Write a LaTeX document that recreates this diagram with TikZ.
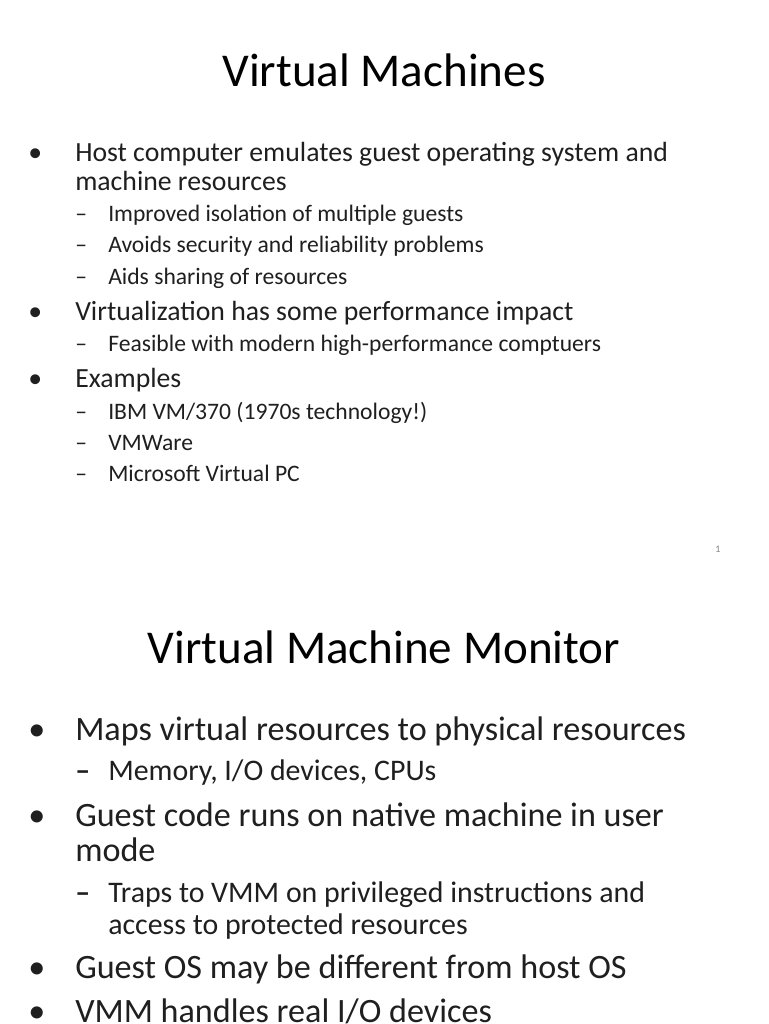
\documentclass[tikz,border=0pt]{standalone}
\usepackage{fontspec}
\setmainfont{Carlito}
\begin{document}
\begin{tikzpicture}[x=0.75pt,y=-0.75pt,
 t/.style={anchor=base west,inner sep=0pt,text=black!88},
 ttl/.style={anchor=base,inner sep=0pt,font=\fontsize{35.3}{40}\selectfont},
 la/.style={t,font=\fontsize{20.8}{24}\selectfont},
 lb/.style={t,font=\fontsize{17.7}{21}\selectfont},
 lc/.style={t,font=\fontsize{25.6}{30}\selectfont},
 ld/.style={t,font=\fontsize{22.4}{26}\selectfont}]
\useasboundingbox[fill=white] (0,0) rectangle (768,1024);
\node[ttl] (t1) at (384,87) {Virtual Machines};
\node[la] (b1) at (28,161) {•};
\node[la] (a1) at (75,161) {Host computer emulates guest operating system and};
\node[la] (a1b) at (75,190) {machine resources};
\node[lb] (d1) at (75,221) {–};\node[lb] (s1) at (108,221) {Improved isolation of multiple guests};
\node[lb] (d2) at (75,252) {–};\node[lb] (s2) at (108,252) {Avoids security and reliability problems};
\node[lb] (d3) at (75,284) {–};\node[lb] (s3) at (108,284) {Aids sharing of resources};
\node[la] (b2) at (28,320) {•};
\node[la] (a2) at (75,320) {Virtualization has some performance impact};
\node[lb] (d4) at (75,351) {–};\node[lb] (s4) at (108,351) {Feasible with modern high-performance comptuers};
\node[la] (b3) at (28,387) {•};
\node[la] (a3) at (75,387) {Examples};
\node[lb] (d5) at (75,419) {–};\node[lb] (s5) at (108,419) {IBM VM/370 (1970s technology!)};
\node[lb] (d6) at (75,450) {–};\node[lb] (s6) at (108,450) {VMWare};
\node[lb] (d7) at (75,481) {–};\node[lb] (s7) at (108,481) {Microsoft Virtual PC};
\node[t,font=\fontsize{7.5}{9}\selectfont,text=black!50] (pg) at (715,552) {1};
\node[ttl] (t2) at (384,663) {Virtual Machine Monitor};
\node[lc] (c1) at (28,740) {•};
\node[lc] (m1) at (75,740) {Maps virtual resources to physical resources};
\node[ld] (e1) at (75,780) {\textbf{–}};\node[ld] (n1) at (108,780) {Memory, I/O devices, CPUs};
\node[lc] (c2) at (28,826) {•};
\node[lc] (m2) at (75,826) {Guest code runs on native machine in user};
\node[lc] (m2b) at (75,861) {mode};
\node[ld] (e2) at (75,902) {\textbf{–}};\node[ld] (n2) at (108,902) {Traps to VMM on privileged instructions and};
\node[ld] (n2b) at (108,934) {access to protected resources};
\node[lc] (c3) at (28,978) {•};
\node[lc] (m3) at (75,978) {Guest OS may be different from host OS};
\node[lc] (c4) at (28,1022) {•};
\node[lc] (m4) at (75,1022) {VMM handles real I/O devices};
\end{tikzpicture}
\end{document}
